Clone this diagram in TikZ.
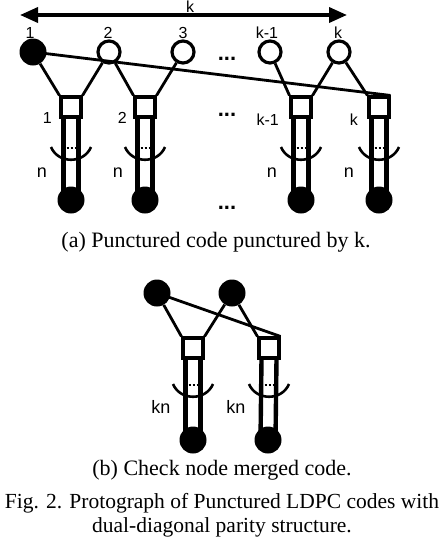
\documentclass[tikz,border=0pt]{standalone}
\usepackage{fontspec}
\setmainfont{Liberation Serif}
\newfontfamily\lblfont{Liberation Sans}
\usetikzlibrary{arrows.meta}

\begin{document}
\begin{tikzpicture}[x=1pt,y=-1pt,
  bit/.style={circle,fill=black,inner sep=0pt,minimum size=27pt},
  punct/.style={circle,draw,line width=3.2pt,inner sep=0pt,minimum size=22pt},
  chk/.style={rectangle,draw,line width=3.6pt,inner sep=0pt,minimum size=19.5pt},
  edge/.style={line width=2.8pt},
  pipe/.style={line width=4.4pt},
  turn/.style={line width=2.6pt},
  dotrow/.style={line width=2pt,dash pattern=on 2pt off 2pt},
  lbl/.style={font=\lblfont\fontsize{16}{16}\selectfont,inner sep=0pt},
  mult/.style={font=\lblfont\fontsize{18}{18}\selectfont,inner sep=0pt},
  gap/.style={font=\lblfont\bfseries\fontsize{22}{22}\selectfont,inner sep=0pt},
  captext/.style={font=\fontsize{22}{24}\selectfont,align=center,inner sep=0pt}]
        \useasboundingbox (0,0) rectangle (444,560);
        \coordinate (kl) at (20,15);
        \coordinate (kr) at (347,15);
        \draw[line width=3.6pt,{Triangle[length=18pt,width=15pt]}-{Triangle[length=18pt,width=15pt]}] (kl)--(kr);
        \node[lbl,anchor=south] (klbl) at (190,13) {k};
        \node[bit] (v1) at (33,52) {};
        \node[punct] (v2) at (109,52) {};
        \node[punct] (v3) at (183,52) {};
        \node[punct] (vk1) at (270,52) {};
        \node[punct] (vk) at (339,52) {};
        \node[lbl] (t1) at (30,33) {1};
        \node[lbl] (t2) at (108,33) {2};
        \node[lbl] (t3) at (183,33) {3};
        \node[lbl] (tk1) at (267,33) {k-1};
        \node[lbl] (tk) at (338,33) {k};
        \node[chk] (c1) at (71,107) {};
        \node[chk] (c2) at (145,107) {};
        \node[chk] (ck1) at (301,107) {};
        \node[chk] (ck) at (379,107) {};
        \node[lbl,anchor=east] (s1) at (52,118) {1};
        \node[lbl,anchor=east] (s2) at (127,118) {2};
        \node[lbl,anchor=east] (sk1) at (279,120) {k-1};
        \node[lbl,anchor=east] (sk) at (358,120) {k};
        \draw[edge] (v1)--(c1.north west);
        \draw[edge] (v2)--(c1.north east);
        \draw[edge] (v2)--(c2.north west);
        \draw[edge] (v3)--(c2.north east);
        \draw[edge] (vk1)--(ck1.north west);
        \draw[edge] (vk)--(ck1.north east);
        \draw[edge] (vk)--(ck.north west);
        \draw[edge] (v1.center)--(ck.north east);
        \node[bit] (e1) at (71,200) {};
        \node[bit] (e2) at (145,200) {};
        \node[bit] (ek1) at (301,200) {};
        \node[bit] (ek) at (379,200) {};
        \draw[pipe] ([xshift=-7.5pt]c1.south)--([xshift=-7.5pt]e1.center);
        \draw[pipe] ([xshift=7.5pt]c1.south)--([xshift=7.5pt]e1.center);
        \draw[pipe] ([xshift=-7.5pt]c2.south)--([xshift=-7.5pt]e2.center);
        \draw[pipe] ([xshift=7.5pt]c2.south)--([xshift=7.5pt]e2.center);
        \draw[pipe] ([xshift=-7.5pt]ck1.south)--([xshift=-7.5pt]ek1.center);
        \draw[pipe] ([xshift=7.5pt]ck1.south)--([xshift=7.5pt]ek1.center);
        \draw[pipe] ([xshift=-7.5pt]ck.south)--([xshift=-7.5pt]ek.center);
        \draw[pipe] ([xshift=7.5pt]ck.south)--([xshift=7.5pt]ek.center);
        \draw[turn] (51,147) .. controls (58,164) and (84,164) .. (91,147);
        \draw[turn] (125,147) .. controls (132,164) and (158,164) .. (165,147);
        \draw[turn] (281,147) .. controls (288,164) and (314,164) .. (321,147);
        \draw[turn] (359,147) .. controls (366,164) and (392,164) .. (399,147);
        \draw[dotrow] (66.5,148)--(76.5,148);
        \draw[dotrow] (140.5,148)--(150.5,148);
        \draw[dotrow] (296.5,148)--(306.5,148);
        \draw[dotrow] (374.5,148)--(384.5,148);
        \node[mult] (m1) at (42,173) {n};
        \node[mult] (m2) at (118,173) {n};
        \node[mult] (mk1) at (272,173) {n};
        \node[mult] (mk) at (349,173) {n};
        \node[gap] (g1) at (227,59) {...};
        \node[gap] (g2) at (227,115) {...};
        \node[gap] (g3) at (227,208) {...};
        \node[captext] (capa) at (216,242) {(a) Punctured code punctured by k.};
        \node[bit] (b1) at (157,293) {};
        \node[bit] (b2) at (232,293) {};
        \node[chk] (d1) at (193,348) {};
        \node[chk] (d2) at (269,348) {};
        \draw[edge] (b1)--(d1.north west);
        \draw[edge] (b2)--(d1.north east);
        \draw[edge] (b2)--(d2.north west);
        \draw[edge] (b1.center)--(d2.north east);
        \node[bit] (f1) at (193,440) {};
        \node[bit] (f2) at (268,440) {};
        \draw[pipe] ([xshift=-7.5pt]d1.south)--([xshift=-7.5pt]f1.center);
        \draw[pipe] ([xshift=7.5pt]d1.south)--([xshift=7.5pt]f1.center);
        \draw[pipe] ([xshift=-7.5pt]d2.south)--([xshift=-7.5pt]f2.center);
        \draw[pipe] ([xshift=7.5pt]d2.south)--([xshift=7.5pt]f2.center);
        \draw[turn] (173,384) .. controls (180,401) and (206,401) .. (213,384);
        \draw[turn] (249,384) .. controls (256,401) and (282,401) .. (289,384);
        \draw[dotrow] (188.5,385)--(198.5,385);
        \draw[dotrow] (264.5,385)--(274.5,385);
        \node[mult] (kn1) at (161,407) {kn};
        \node[mult] (kn2) at (236,407) {kn};
        \node[captext] (capb) at (222,470) {(b) Check node merged code.};
        \node[captext,font=\fontsize{21.5}{24}\selectfont] (capfig) at (222,515) {Fig. 2. Protograph of Punctured LDPC codes with\\dual-diagonal parity structure.};
\end{tikzpicture}
\end{document}
